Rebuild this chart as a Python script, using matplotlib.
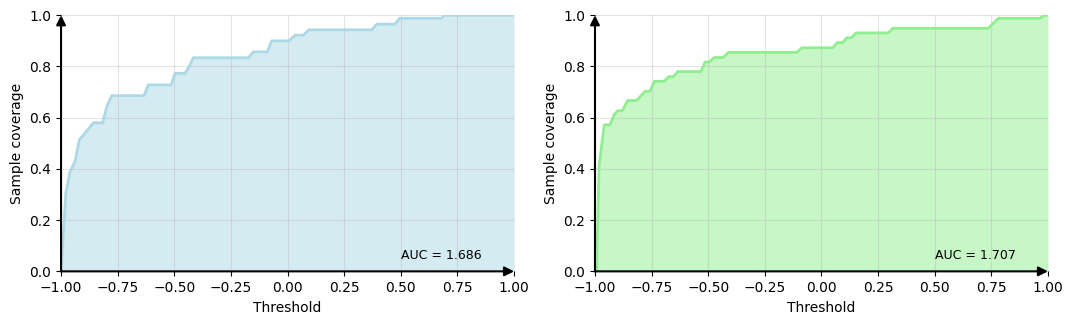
import numpy as np
import matplotlib.pyplot as plt

# coverage curves
thr_a = [-1.0, -0.979, -0.96, -0.938, -0.919, -0.857, -0.816, -0.798, -0.776, -0.634, -0.615,
         -0.514, -0.497, -0.453, -0.438, -0.416, -0.173, -0.151, -0.089, -0.070, 0.006, 0.033,
         0.07, 0.094, 0.372, 0.394, 0.475, 0.494, 0.678, 0.695, 1.0]
cov_a = [0.0, 0.305, 0.39, 0.43, 0.514, 0.58, 0.58, 0.644, 0.686, 0.686, 0.728,
         0.728, 0.773, 0.773, 0.795, 0.834, 0.834, 0.857, 0.857, 0.9, 0.9, 0.922,
         0.922, 0.943, 0.943, 0.965, 0.965, 0.988, 0.988, 1.0, 1.0]

thr_b = [-1.0, -0.993, -0.982, -0.959, -0.934, -0.915, -0.9, -0.879, -0.856, -0.816, -0.779,
         -0.757, -0.738, -0.694, -0.676, -0.654, -0.635, -0.532, -0.514, -0.497, -0.473,
         -0.434, -0.411, -0.109, -0.087, 0.049, 0.07, 0.094, 0.111, 0.133, 0.152, 0.295,
         0.314, 0.736, 0.781, 0.962, 0.985, 1.0]
cov_b = [0.0, 0.0, 0.41, 0.572, 0.572, 0.612, 0.627, 0.627, 0.667, 0.667, 0.703,
         0.703, 0.742, 0.742, 0.76, 0.76, 0.78, 0.78, 0.817, 0.817, 0.835,
         0.835, 0.855, 0.855, 0.873, 0.873, 0.893, 0.893, 0.912, 0.912, 0.931, 0.931,
         0.949, 0.949, 0.988, 0.988, 1.0, 1.0]

panels = [(thr_a, cov_a, 'lightblue', 'AUC = 1.686'),
          (thr_b, cov_b, 'lightgreen', 'AUC = 1.707')]

fig = plt.figure(figsize=(10.73, 3.24), dpi=100)
lefts = [0.0569, 0.5545]

for left, (x, y, col, label) in zip(lefts, panels):
    ax = fig.add_axes([left, 0.1625, 0.4222, 0.7905])
    ax.fill_between(x, y, color=col, alpha=0.5, lw=0)
    ax.plot(x, y, color=col, lw=2)
    ax.set_xlim(-1, 1)
    ax.set_ylim(0, 1)
    ax.set_xticks(np.arange(-1, 1.01, 0.25))
    ax.set_yticks(np.arange(0, 1.01, 0.2))
    ax.grid(True, alpha=0.35)
    for s in ax.spines.values():
        s.set_visible(False)
    # arrow axes
    for tip in [(1, 0), (0, 1)]:
        ax.annotate('', xy=tip, xytext=(0, 0), xycoords='axes fraction',
                    arrowprops=dict(arrowstyle='-|>', color='black', lw=1.5,
                                    mutation_scale=14, shrinkA=0, shrinkB=0),
                    annotation_clip=False)
    ax.text(0.5, 0.05, label, fontsize=9)
    ax.set_xlabel('Threshold')
    ax.set_ylabel('Sample coverage')

fig.savefig('out.png', dpi=100)
